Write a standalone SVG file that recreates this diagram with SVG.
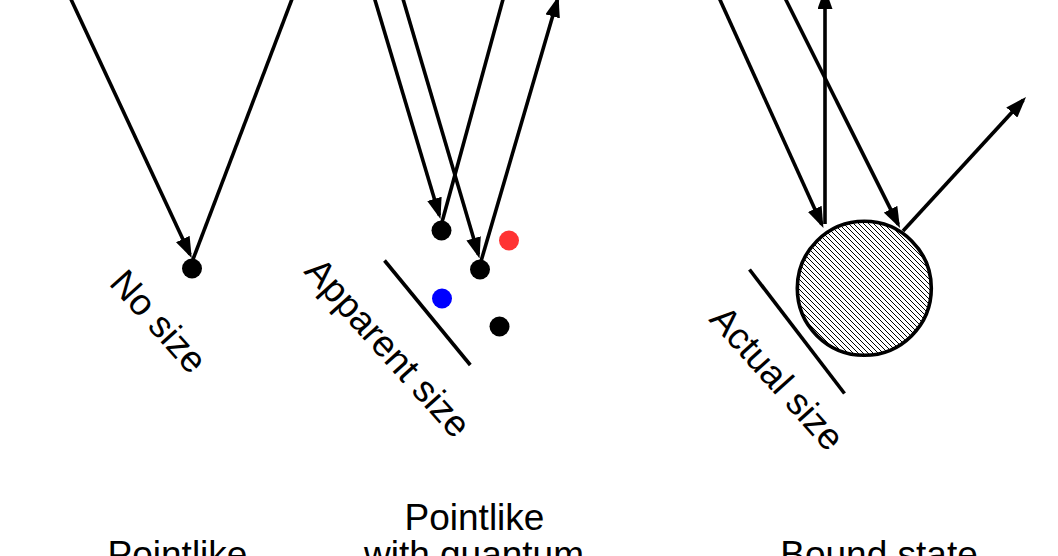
<svg xmlns="http://www.w3.org/2000/svg" width="1058" height="556" viewBox="0 0 1058 556">
<style>
.ln{stroke:#000;stroke-width:3.6;fill:none}
.arr{stroke:#000;stroke-width:3.6;fill:none;marker-end:url(#ah)}
.dot{fill:#000}
.txt{font-family:"Liberation Sans",Arial,sans-serif;font-size:37px;fill:#000}
.mid{text-anchor:middle}
</style>
<defs>
<marker id="ah" viewBox="0 0 21 15" refX="17" refY="7.5" markerWidth="21" markerHeight="15" markerUnits="userSpaceOnUse" orient="auto">
<path d="M0,0 L21,7.5 L0,15 z" fill="#000"/>
</marker>
<pattern id="hatch" patternUnits="userSpaceOnUse" width="5" height="5">
<path d="M-1,-1 L6,6 M-1,4 L1,6 M4,-1 L6,1" stroke="#000" stroke-width="1"/>
</pattern>
</defs>
<rect width="1058" height="556" fill="#fff"/>
<g id="connectors">
<line class="arr" x1="62" y1="-20" x2="190" y2="254.4"/>
<line class="ln" x1="192" y1="262" x2="300" y2="-22"/>
<line class="arr" x1="369" y1="-20" x2="439.3" y2="215.2"/>
<line class="arr" x1="397.4" y1="-20" x2="478.4" y2="254.6"/>
<line class="ln" x1="441.5" y1="224" x2="508.3" y2="-20"/>
<line class="arr" x1="480.5" y1="263" x2="557.4" y2="0"/>
<line class="arr" x1="711" y1="-20" x2="821.8" y2="224.4"/>
<line class="arr" x1="825" y1="224" x2="825" y2="-8"/>
<line class="arr" x1="776" y1="-20" x2="898.2" y2="224.4"/>
<line class="arr" x1="903" y1="231" x2="1023.3" y2="100"/>
<line class="ln" x1="384.5" y1="260.5" x2="470.3" y2="365"/>
<line class="ln" x1="749.5" y1="269.5" x2="844.5" y2="393.5"/>
</g>
<g id="node-nosize">
<circle class="dot" cx="192" cy="268.5" r="10"/>
<text class="txt" transform="translate(108,284) rotate(48)">No size</text>
</g>
<g id="node-apparent">
<circle class="dot" cx="441.5" cy="230.5" r="10"/>
<circle class="dot" cx="480" cy="269.5" r="10"/>
<circle cx="509" cy="240.5" r="10" fill="#ff3333"/>
<circle cx="442" cy="298.5" r="10" fill="#0000ff"/>
<circle class="dot" cx="499.5" cy="326.5" r="10"/>
<text class="txt" transform="translate(303,272) rotate(48)">Apparent size</text>
</g>
<g id="node-bound">
<circle cx="864.3" cy="288.3" r="67" fill="url(#hatch)" stroke="#000" stroke-width="3.6"/>
<text class="txt" transform="translate(708,320) rotate(48)">Actual size</text>
</g>
<g id="captions">
<text class="txt mid" x="177.5" y="567">Pointlike</text>
<text class="txt mid" x="474.5" y="530">Pointlike</text>
<text class="txt mid" x="474" y="567">with quantum</text>
<text class="txt mid" x="879" y="567">Bound state</text>
</g>
</svg>
